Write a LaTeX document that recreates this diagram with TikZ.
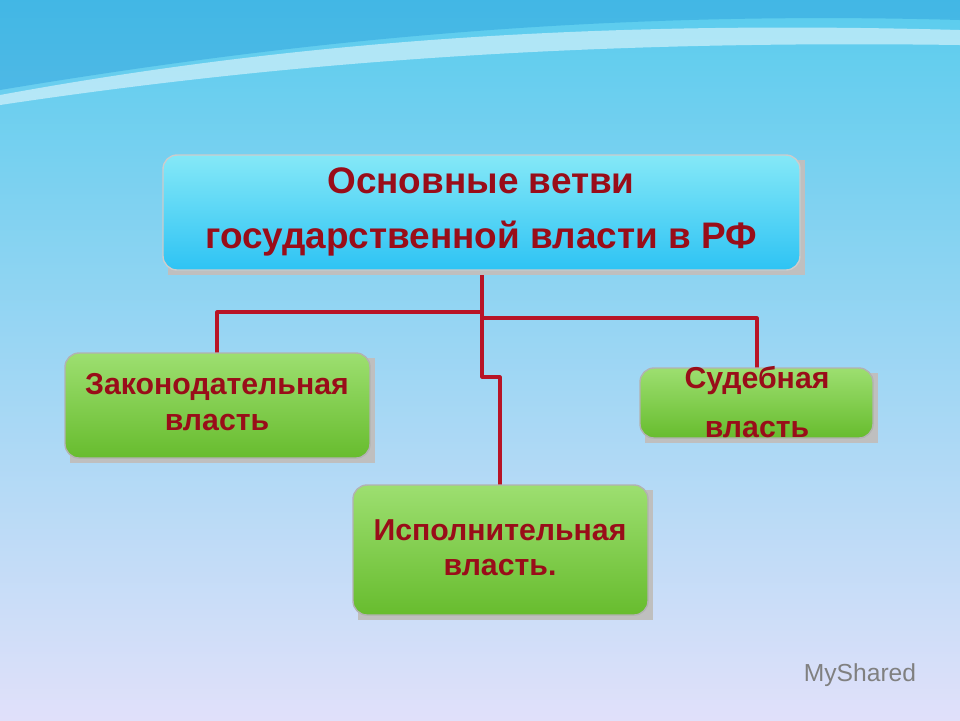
\documentclass[tikz,border=0pt]{standalone}
\usepackage{fontspec}
\setmainfont{Liberation Sans}
\usetikzlibrary{calc}
\definecolor{txtred}{rgb}{0.6,0.05,0.1}
\definecolor{linered}{rgb}{0.72,0.08,0.15}
\definecolor{topcyan}{rgb}{0.2,0.85,0.95}
\definecolor{boxgreen}{rgb}{0.45,0.82,0.2}
\definecolor{bgtop}{rgb}{0.35,0.8,0.93}
\definecolor{bgbot}{rgb}{0.88,0.88,0.98}
\tikzstyle{every node}=[text=txtred,align=center]
\begin{document}
\begin{tikzpicture}[x=0.01cm,y=-0.01cm,line cap=round,line join=round]
\useasboundingbox (0,0) rectangle (960,720);
\shade[top color=bgtop,bottom color=bgbot] (0,0) rectangle (960,720);
\fill[white,opacity=0.5] (0,95) .. controls (300,40) and (600,20) .. (960,30) -- (960,45) .. controls (600,40) and (300,60) .. (0,105) -- cycle;
\fill[cyan!70!blue,opacity=0.3] (0,0) -- (960,0) -- (960,20) .. controls (600,10) and (300,40) .. (0,90) -- cycle;
\tikzset{branch/.style={draw=gray!60,rounded corners=4pt,top color=boxgreen!70!white,bottom color=boxgreen!90!black},
  bigtext/.style={font=\fontsize{10.5}{15.6}\bfseries},
  smalltext/.style={font=\fontsize{8.6}{10}\bfseries}}
% connectors
\draw[linered,line width=0.9pt] (482,270) -- (482,312) -- (217,312) -- (217,353);
\draw[linered,line width=0.9pt] (482,318) -- (757,318) -- (757,368);
\draw[linered,line width=0.9pt] (482,312) -- (482,377) -- (500,377) -- (500,485);
% boxes
\fill[gray!50] (168,160) rectangle (805,275);
\draw[draw=gray!40,rounded corners=4pt,top color=topcyan!60!white,bottom color=topcyan!90!blue] (163,155) rectangle (800,270);
\node[bigtext] (main) at (481,212) {Основные ветви\\государственной власти в РФ};
\fill[gray!50] (70,358) rectangle (375,463);
\draw[branch] (65,353) rectangle (370,458);
\node[smalltext] (zak) at (217,402) {Законодательная\\власть};
\fill[gray!50] (645,373) rectangle (878,443);
\draw[branch] (640,368) rectangle (873,438);
\node[smalltext] (sud) at (757,402) {Судебная\\[3.7pt]власть};
\fill[gray!50] (358,490) rectangle (653,620);
\draw[branch] (353,485) rectangle (648,615);
\node[smalltext] (isp) at (500,548) {Исполнительная\\власть.};
\node[text=gray,font=\fontsize{7}{8}\selectfont] (logo) at (860,675) {MyShared};
\end{tikzpicture}
\end{document}
